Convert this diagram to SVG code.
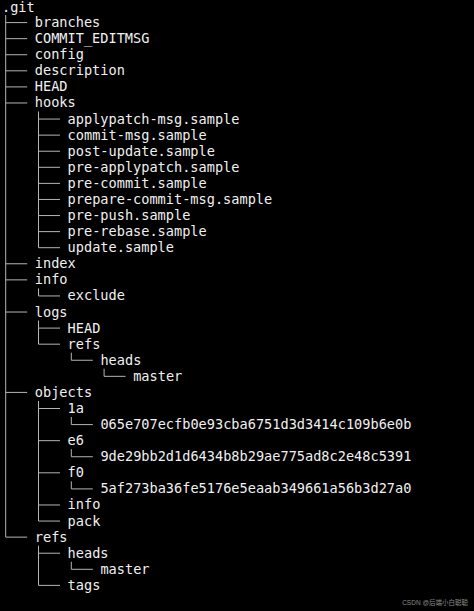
<svg xmlns="http://www.w3.org/2000/svg" width="474" height="611" viewBox="0 0 474 611">
<style>
text{font-family:"DejaVu Sans Mono","Liberation Mono",monospace;font-size:13.6px;fill:#f0f0f0}
.wm{font-family:"Liberation Sans","Noto Sans CJK SC",sans-serif;font-size:6.5px;fill:#8a8a8a}
.c path{stroke:#b4b4b4;stroke-width:1;fill:none}
</style>
<rect width="474" height="611" fill="#000"/>
<g class="c" id="connectors" transform="translate(0.6,0)">
<path d="M5.1 15V537.14M5.1 22.58h21.5M5.1 38.66h21.5M5.1 54.74h21.5M5.1 70.82h21.5M5.1 86.9h21.5M5.1 102.98h21.5M5.1 263.78h21.5M5.1 279.86h21.5M5.1 312.02h21.5M5.1 392.42h21.5M5.1 537.14h21.5"/>
<path d="M37.9 111.48V247.7M37.9 119.06h21.5M37.9 135.14h21.5M37.9 151.22h21.5M37.9 167.3h21.5M37.9 183.38h21.5M37.9 199.46h21.5M37.9 215.54h21.5M37.9 231.62h21.5M37.9 247.7h21.5"/>
<path d="M37.9 288.36V295.94h21.5"/>
<path d="M37.9 320.52V344.18M37.9 328.1h21.5M37.9 344.18h21.5"/>
<path d="M70.7 352.68V360.26h21.5"/>
<path d="M103.5 368.76V376.34h21.5"/>
<path d="M37.9 400.92V521.06M37.9 408.5h21.5M37.9 440.66h21.5M37.9 472.82h21.5M37.9 504.98h21.5M37.9 521.06h21.5"/>
<path d="M70.7 417V424.58h21.5"/>
<path d="M70.7 449.16V456.74h21.5"/>
<path d="M70.7 481.32V488.9h21.5"/>
<path d="M37.9 545.64V585.38M37.9 553.22h21.5M37.9 585.38h21.5"/>
<path d="M70.7 561.72V569.3h21.5"/>
</g>
<g id="n-git"><text x="2" y="12">.git</text></g>
<g id="n-branches"><text x="34.8" y="27.08">branches</text></g>
<g id="n-commit-editmsg"><text x="34.8" y="43.16">COMMIT_EDITMSG</text></g>
<g id="n-config"><text x="34.8" y="59.24">config</text></g>
<g id="n-description"><text x="34.8" y="75.32">description</text></g>
<g id="n-head"><text x="34.8" y="91.4">HEAD</text></g>
<g id="n-hooks"><text x="34.8" y="107.48">hooks</text></g>
<g id="n-applypatch-msg"><text x="67.6" y="123.56">applypatch-msg.sample</text></g>
<g id="n-commit-msg"><text x="67.6" y="139.64">commit-msg.sample</text></g>
<g id="n-post-update"><text x="67.6" y="155.72">post-update.sample</text></g>
<g id="n-pre-applypatch"><text x="67.6" y="171.8">pre-applypatch.sample</text></g>
<g id="n-pre-commit"><text x="67.6" y="187.88">pre-commit.sample</text></g>
<g id="n-prepare-commit-msg"><text x="67.6" y="203.96">prepare-commit-msg.sample</text></g>
<g id="n-pre-push"><text x="67.6" y="220.04">pre-push.sample</text></g>
<g id="n-pre-rebase"><text x="67.6" y="236.12">pre-rebase.sample</text></g>
<g id="n-update"><text x="67.6" y="252.2">update.sample</text></g>
<g id="n-index"><text x="34.8" y="268.28">index</text></g>
<g id="n-info"><text x="34.8" y="284.36">info</text></g>
<g id="n-exclude"><text x="67.6" y="300.44">exclude</text></g>
<g id="n-logs"><text x="34.8" y="316.52">logs</text></g>
<g id="n-logs-head"><text x="67.6" y="332.6">HEAD</text></g>
<g id="n-logs-refs"><text x="67.6" y="348.68">refs</text></g>
<g id="n-logs-heads"><text x="100.4" y="364.76">heads</text></g>
<g id="n-logs-master"><text x="133.2" y="380.84">master</text></g>
<g id="n-objects"><text x="34.8" y="396.92">objects</text></g>
<g id="n-1a"><text x="67.6" y="413">1a</text></g>
<g id="n-1a-obj"><text x="100.4" y="429.08">065e707ecfb0e93cba6751d3d3414c109b6e0b</text></g>
<g id="n-e6"><text x="67.6" y="445.16">e6</text></g>
<g id="n-e6-obj"><text x="100.4" y="461.24">9de29bb2d1d6434b8b29ae775ad8c2e48c5391</text></g>
<g id="n-f0"><text x="67.6" y="477.32">f0</text></g>
<g id="n-f0-obj"><text x="100.4" y="493.4">5af273ba36fe5176e5eaab349661a56b3d27a0</text></g>
<g id="n-obj-info"><text x="67.6" y="509.48">info</text></g>
<g id="n-pack"><text x="67.6" y="525.56">pack</text></g>
<g id="n-refs"><text x="34.8" y="541.64">refs</text></g>
<g id="n-refs-heads"><text x="67.6" y="557.72">heads</text></g>
<g id="n-refs-master"><text x="100.4" y="573.8">master</text></g>
<g id="n-tags"><text x="67.6" y="589.88">tags</text></g>
<text class="wm" x="468" y="605" text-anchor="end">CSDN @后端小白聪聪</text>
</svg>
